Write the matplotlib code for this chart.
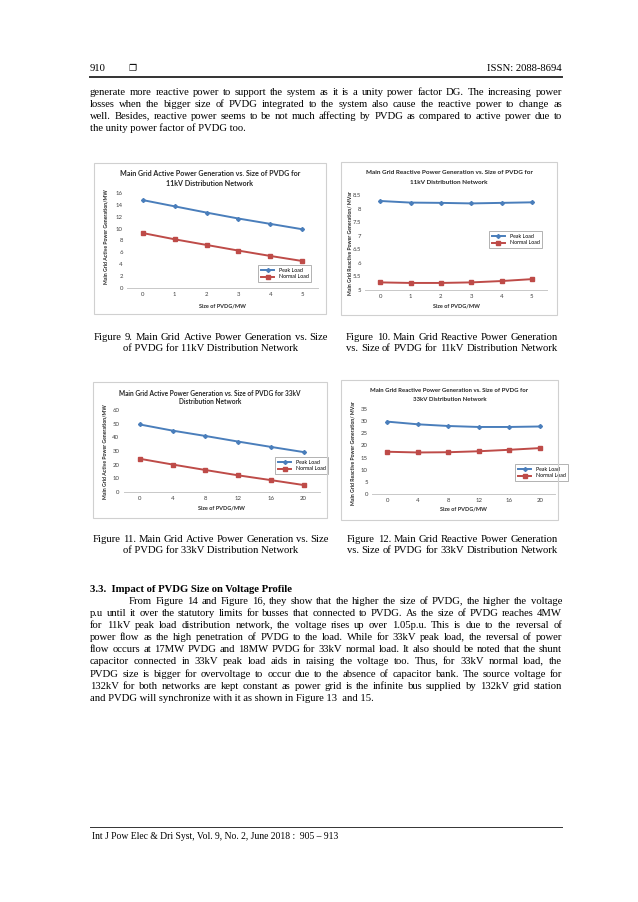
import matplotlib
matplotlib.use('Agg')
import matplotlib.pyplot as plt
import numpy as np
from matplotlib.patches import Rectangle
from matplotlib.lines import Line2D

# data
sizes_11 = ['0', '1', '2', '3', '4', '5']
sizes_33 = ['0', '4', '8', '12', '16', '20']
p11_peak = [14.8, 13.75, 12.7, 11.7, 10.8, 9.9]
p11_normal = [9.25, 8.2, 7.25, 6.3, 5.4, 4.55]
q11_peak = [8.28, 8.22, 8.21, 8.19, 8.21, 8.23]
q11_normal = [5.28, 5.26, 5.26, 5.28, 5.33, 5.4]
p33_peak = [49.4, 44.9, 41.0, 36.9, 33.0, 29.2]
p33_normal = [24.3, 20.1, 16.1, 12.2, 8.7, 5.1]
q33_peak = [29.8, 28.7, 28.0, 27.6, 27.6, 27.8]
q33_normal = [17.4, 17.1, 17.2, 17.6, 18.2, 18.9]

# page text
para1 = [
    "generate more reactive power to support the system as it is a unity power factor DG. The increasing power",
    "losses when the bigger size of PVDG integrated to the system also cause the reactive power to change as",
    "well. Besides, reactive power seems to be not much affecting by PVDG as compared to active power due to",
    "the unity power factor of PVDG too.",
]
para2 = [
    "From Figure 14 and Figure 16, they show that the higher the size of PVDG, the higher the voltage",
    "p.u until it over the statutory limits for busses that connected to PVDG. As the size of PVDG reaches 4MW",
    "for 11kV peak load distribution network, the voltage rises up over 1.05p.u. This is due to the reversal of",
    "power flow as the high penetration of PVDG to the load. While for 33kV peak load, the reversal of power",
    "flow occurs at 17MW PVDG and 18MW PVDG for 33kV normal load. It also should be noted that the shunt",
    "capacitor connected in 33kV peak load aids in raising the voltage too. Thus, for 33kV normal load, the",
    "PVDG size is bigger for overvoltage to occur due to the absence of capacitor bank. The source voltage for",
    "132kV for both networks are kept constant as power grid is the infinite bus supplied by 132kV grid station",
    "and PVDG will synchronize with it as shown in Figure 13  and 15.",
]

W, H = 638, 902
fig = plt.figure(figsize=(6.38, 9.02), dpi=100)
renderer = fig.canvas.get_renderer()

SERIF = 'Liberation Serif'
SANS = 'Lato'
BLUE = '#4a7ebb'
RED = '#be4b48'
BODY = 7.7

# scratch canvas to check where Agg really draws a word (words ending in a
# comma can come out a pixel or two low)
scratch = plt.figure(figsize=(2.5, 0.4), dpi=100)


def fx(x):
    return x / W


def fy(y):
    return 1 - y / H


def ink_top(word, size, weight, y):
    yd = fig.transFigure.transform((0, fy(y)))[1]
    ys = yd - 2 * np.floor((yd - 18) / 2)   # same fraction and parity as on the page
    t = scratch.text(5, ys, word, fontsize=size, family=SERIF, weight=weight,
                     va='baseline', transform=None)
    scratch.canvas.draw()
    a = np.asarray(scratch.canvas.buffer_rgba())[:, :, 0]
    t.remove()
    rows = np.where((a < 180).any(axis=1))[0]
    return rows[0] if len(rows) else 0


def put_line(s, x0, x1, y, size=BODY, weight='normal', justify=True):
    # y is the baseline, in pixels from the top
    if not justify:
        fig.text(fx(x0), fy(y), s, fontsize=size, family=SERIF, weight=weight, va='baseline')
        return
    words = s.split()
    texts = []
    for w in words:
        yy = y
        if w.endswith(',') and len(w) > 1:
            yy = y - (ink_top(w, size, weight, y) - ink_top(w[:-1], size, weight, y))
        texts.append(fig.text(0, fy(yy), w, fontsize=size, family=SERIF, weight=weight,
                              va='baseline'))
    widths = [t.get_window_extent(renderer).width for t in texts]
    gap = (x1 - x0 - sum(widths)) / (len(words) - 1)
    x = x0
    for t, w in zip(texts, widths):
        t.set_x(fx(x))
        x += w + gap


def chart(box, plot, cats, peak, normal, ylim, yticks, title, title_y, title_size,
          ylabel, ylab_xy, xlab_y, leg_xy):
    l, t, r, b = box
    fig.add_artist(Rectangle((fx(l), fy(b)), (r - l) / W, (b - t) / H, transform=fig.transFigure,
                             fill=False, ec='#d0d0d0', lw=0.8))
    pl, pt, pr, pb = plot
    ax = fig.add_axes([fx(pl), fy(pb), (pr - pl) / W, (pb - pt) / H])
    xs = range(len(cats))
    ax.plot(xs, peak, color=BLUE, marker='D', ms=2.0, lw=1.4, label='Peak Load')
    ax.plot(xs, normal, color=RED, marker='s', ms=3.2, lw=1.4, label='Normal Load')
    ax.set_xlim(-0.5, len(cats) - 0.5)
    ax.set_ylim(*ylim)
    ax.set_xticks(list(xs))
    ax.set_xticklabels(cats)
    ax.set_yticks(yticks)
    ax.set_yticklabels(['%g' % v for v in yticks])
    for s in ['top', 'right', 'left']:
        ax.spines[s].set_visible(False)
    ax.spines['bottom'].set_color('#c8c8c8')
    ax.spines['bottom'].set_linewidth(0.7)
    ax.tick_params(length=0, labelsize=4.3, labelcolor='#404040', pad=3)
    for lab in ax.get_xticklabels() + ax.get_yticklabels():
        lab.set_family(SANS)
    cx = (l + r) / 2
    for line, yy in zip(title, title_y):
        fig.text(fx(cx), fy(yy), line, ha='center', va='center', family=SANS,
                 weight='bold', fontsize=title_size, color='#262626')
    fig.text(fx(ylab_xy[0]), fy(ylab_xy[1]), ylabel, rotation=90, ha='center', va='center',
             family=SANS, weight='bold', fontsize=3.7, color='#262626')
    fig.text(fx((pl + pr) / 2), fy(xlab_y), 'Size of PVDG/MW', ha='center', va='center',
             family=SANS, weight='bold', fontsize=4.0, color='#262626')
    ax.legend(loc='upper left', bbox_to_anchor=(fx(leg_xy[0]), fy(leg_xy[1])),
              bbox_transform=fig.transFigure, prop={'family': SANS, 'size': 3.8},
              fancybox=False, edgecolor='#a6a6a6', framealpha=1, borderpad=0.5,
              handlelength=2.6, labelspacing=0.35, borderaxespad=0)
    ax.get_legend().get_frame().set_linewidth(0.6)
    return ax


# header
fig.text(fx(90), fy(71), '910', fontsize=BODY, family=SERIF, va='baseline')
fig.text(fx(128), fy(71), '\u2750', fontsize=6.5, family='DejaVu Sans', va='baseline')
fig.text(fx(562), fy(71), 'ISSN: 2088-8694', fontsize=BODY, family=SERIF, va='baseline', ha='right')
fig.add_artist(Line2D([fx(90), fx(562)], [fy(76.5), fy(76.5)], color='#333333', lw=1.4))

# first paragraph
for i, line in enumerate(para1):
    put_line(line, 90, 562, 95 + i * 12.1, justify=i < len(para1) - 1)

# charts
chart((94, 163, 326, 314), (127, 193, 318, 288), sizes_11, p11_peak, p11_normal,
      (0, 16), list(range(0, 17, 2)),
      ['Main Grid Active Power Generation vs. Size of PVDG for', '11kV Distribution Network'],
      [174, 183.5], 5.1, 'Main Grid Active Power Generation/MW', (106, 237), 306, (258, 265))
chart((341, 162, 557, 315), (365, 195, 547, 290), sizes_11, q11_peak, q11_normal,
      (5, 8.5), [5, 5.5, 6, 6.5, 7, 7.5, 8, 8.5],
      ['Main Grid Reactive Power Generation vs. Size of PVDG for', '11kV Distribution Network'],
      [172.5, 182], 4.6, 'Main Grid Reactive Power Generation/ MVar', (350, 243), 306, (489, 231))
chart((93, 382, 327, 518), (123.5, 410, 320, 492), sizes_33, p33_peak, p33_normal,
      (0, 60), list(range(0, 61, 10)),
      ['Main Grid Active Power Generation vs. Size of PVDG for 33kV', 'Distribution Network'],
      [393, 401.5], 4.7, 'Main Grid Active Power Generation/MW', (105, 452), 508, (275, 457))
chart((341, 380, 558, 520), (372, 409, 555, 494), sizes_33, q33_peak, q33_normal,
      (0, 35), list(range(0, 36, 5)),
      ['Main Grid Reactive Power Generation vs. Size of PVDG for', '33kV Distribution Network'],
      [391, 399.5], 4.35, 'Main Grid Reactive Power Generation/ MVar', (353, 453), 509, (515, 464))

# captions
put_line('Figure 9. Main Grid Active Power Generation vs. Size', 94, 328, 340)
fig.text(fx(211), fy(351), 'of PVDG for 11kV Distribution Network', fontsize=BODY, family=SERIF,
         va='baseline', ha='center')
put_line('Figure 10. Main Grid Reactive Power Generation', 346, 558, 340)
put_line('vs. Size of PVDG for 11kV Distribution Network', 346, 558, 351)
put_line('Figure 11. Main Grid Active Power Generation vs. Size', 93, 329, 542)
fig.text(fx(211), fy(553), 'of PVDG for 33kV Distribution Network', fontsize=BODY, family=SERIF,
         va='baseline', ha='center')
put_line('Figure 12. Main Grid Reactive Power Generation', 347, 558, 542)
put_line('vs. Size of PVDG for 33kV Distribution Network', 347, 558, 553)

# section 3.3
fig.text(fx(90), fy(592), '3.3.  Impact of PVDG Size on Voltage Profile', fontsize=BODY,
         family=SERIF, weight='bold', va='baseline')
for i, line in enumerate(para2):
    x0 = 129 if i == 0 else 90
    put_line(line, x0, 562, 603.5 + i * 12.2, justify=i < len(para2) - 1)

# footer
fig.add_artist(Line2D([fx(90), fx(562)], [fy(827), fy(827)], color='#333333', lw=0.7))
fig.text(fx(92), fy(839), 'Int J Pow Elec & Dri Syst, Vol. 9, No. 2, June 2018 :  905 \u2013 913',
         fontsize=6.9, family=SERIF, va='baseline')

plt.close(scratch)
fig.savefig('out.png', dpi=100, facecolor='white')
